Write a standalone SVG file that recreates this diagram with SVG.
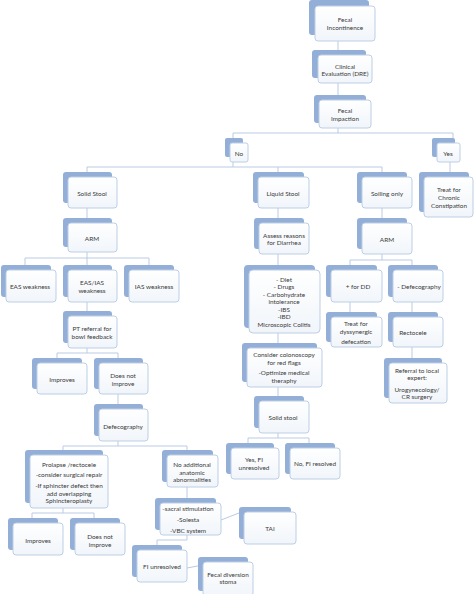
<svg xmlns="http://www.w3.org/2000/svg" width="474" height="594" viewBox="0 0 474 594">
<defs>
<linearGradient id="fg" x1="0" y1="0" x2="0" y2="1">
<stop offset="0" stop-color="#ffffff"/>
<stop offset="1" stop-color="#f1f5fa"/>
</linearGradient>
</defs>
<style>
.b{fill:#93aed7;stroke:none}
.f{fill:url(#fg);stroke:#bccfe6;stroke-width:1}
.t{font-family:Lato,"Liberation Sans",sans-serif;font-size:6.4px;fill:#3a3a3a;text-anchor:middle;dominant-baseline:central}
.c{stroke:#b9cbe3;stroke-width:1;fill:none}
</style>
<rect width="474" height="594" fill="#ffffff"/>
<g id="connectors" class="c">
<path d="M338 41V55M338 83V100M338 128V133M233 133H453M233 133V143M453 133V143"/>
<path d="M233 162V167M87 167H382M87 167V177M278 167V177M382 167V177M450 162V177"/>
<path d="M87 208V223M87 252V258M25 258H149M25 258V270M87 258V270M149 258V270"/>
<path d="M87 302V316M87 348V353M57 353H118M57 353V363M118 353V363M118 394V409"/>
<path d="M118 441V446M63 446H187M63 446V455M187 446V455"/>
<path d="M63 508V513M32 513H94M32 513V523M94 513V523"/>
<path d="M187 487V503M221 520L239 513M187 535V540H157V550M187 568L203 565"/>
<path d="M278 208V223M278 254V270M278 333V348M278 387V401M278 433V438M248 438H309M248 438V448M309 438V448"/>
<path d="M382 208V223M382 254V260M350 260H412M350 260V270M412 260V270M350 302V317M412 302V317M412 347V363"/>
</g>
<g id="n1"><rect class="b" x="309" y="0" width="60" height="35" rx="3"/><rect class="f" x="315" y="6" width="60" height="35" rx="3"/><text class="t" x="345" y="19">Fecal</text><text class="t" x="345" y="27.5">Incontinence</text></g>
<g id="n2"><rect class="b" x="312" y="50" width="54" height="28" rx="3"/><rect class="f" x="318" y="55" width="54" height="28" rx="3"/><text class="t" x="345" y="66">Clinical</text><text class="t" x="345" y="73.5">Evaluation (DRE)</text></g>
<g id="n3"><rect class="b" x="314" y="95" width="52" height="28" rx="3"/><rect class="f" x="319" y="100" width="52" height="28" rx="3"/><text class="t" x="345" y="110">Fecal</text><text class="t" x="345" y="118">Impaction</text></g>
<g id="n4"><rect class="b" x="225" y="138" width="18" height="19" rx="2"/><rect class="f" x="230" y="143" width="18" height="19" rx="2"/><text class="t" x="239" y="153">No</text></g>
<g id="n5"><rect class="b" x="432" y="138" width="23" height="19" rx="2"/><rect class="f" x="437" y="143" width="23" height="19" rx="2"/><text class="t" x="448" y="153">Yes</text></g>
<g id="n6"><rect class="b" x="63" y="172" width="49" height="31" rx="3"/><rect class="f" x="68" y="177" width="49" height="31" rx="3"/><text class="t" x="92" y="193">Solid Stool</text></g>
<g id="n7"><rect class="b" x="253" y="172" width="51" height="31" rx="3"/><rect class="f" x="258" y="177" width="51" height="31" rx="3"/><text class="t" x="283" y="193">Liquid Stool</text></g>
<g id="n8"><rect class="b" x="357" y="172" width="50" height="31" rx="3"/><rect class="f" x="362" y="177" width="50" height="31" rx="3"/><text class="t" x="387" y="193">Soiling only</text></g>
<g id="n9"><rect class="b" x="419" y="172" width="50" height="40" rx="3"/><rect class="f" x="424" y="177" width="49" height="40" rx="3"/><text class="t" x="449" y="189">Treat for</text><text class="t" x="449" y="197">Chronic</text><text class="t" x="449" y="205">Constipation</text></g>
<g id="n10"><rect class="b" x="63" y="218" width="49" height="29" rx="3"/><rect class="f" x="68" y="223" width="49" height="29" rx="3"/><text class="t" x="92" y="238">ARM</text></g>
<g id="n11"><rect class="b" x="1" y="265" width="50" height="32" rx="3"/><rect class="f" x="6" y="270" width="50" height="32" rx="3"/><text class="t" x="30" y="286">EAS weakness</text></g>
<g id="n12"><rect class="b" x="63" y="265" width="49" height="32" rx="3"/><rect class="f" x="68" y="270" width="49" height="32" rx="3"/><text class="t" x="92" y="282">EAS/IAS</text><text class="t" x="92" y="290">weakness</text></g>
<g id="n13"><rect class="b" x="124" y="265" width="50" height="32" rx="3"/><rect class="f" x="129" y="270" width="50" height="32" rx="3"/><text class="t" x="154" y="286">IAS weakness</text></g>
<g id="n14"><rect class="b" x="63" y="311" width="49" height="32" rx="3"/><rect class="f" x="68" y="316" width="49" height="32" rx="3"/><text class="t" x="92" y="328">PT referral for</text><text class="t" x="92" y="336">bowl feedback</text></g>
<g id="n15"><rect class="b" x="32" y="358" width="50" height="31" rx="3"/><rect class="f" x="37" y="363" width="50" height="31" rx="3"/><text class="t" x="62" y="379">Improves</text></g>
<g id="n16"><rect class="b" x="94" y="358" width="49" height="31" rx="3"/><rect class="f" x="99" y="363" width="49" height="31" rx="3"/><text class="t" x="123" y="375">Does not</text><text class="t" x="123" y="383">improve</text></g>
<g id="n17"><rect class="b" x="94" y="404" width="49" height="32" rx="3"/><rect class="f" x="99" y="409" width="49" height="32" rx="3"/><text class="t" x="123" y="426">Defecography</text></g>
<g id="n18"><rect class="b" x="25" y="450" width="78" height="53" rx="3"/><rect class="f" x="30" y="455" width="78" height="53" rx="3"/><text class="t" x="69" y="464">Prolapse /rectocele</text><text class="t" x="69" y="474">-consider surgical repair</text><text class="t" x="69" y="485">-If sphincter defect then</text><text class="t" x="69" y="493">add overlapping</text><text class="t" x="69" y="500.5">Sphincteroplasty</text></g>
<g id="n19"><rect class="b" x="8" y="518" width="50" height="32" rx="3"/><rect class="f" x="13" y="523" width="50" height="32" rx="3"/><text class="t" x="38" y="540">Improves</text></g>
<g id="n20"><rect class="b" x="70" y="518" width="50" height="32" rx="3"/><rect class="f" x="75" y="523" width="50" height="32" rx="3"/><text class="t" x="100" y="536">Does not</text><text class="t" x="100" y="544">improve</text></g>
<g id="n21"><rect class="b" x="162" y="450" width="51" height="32" rx="3"/><rect class="f" x="167" y="455" width="51" height="32" rx="3"/><text class="t" x="192" y="464">No additional</text><text class="t" x="192" y="472">anatomic</text><text class="t" x="192" y="479.5">abnormalities</text></g>
<g id="n22"><rect class="b" x="155" y="498" width="61" height="32" rx="3"/><rect class="f" x="160" y="503" width="61" height="32" rx="3"/><text class="t" x="188" y="508.5">-sacral stimulation</text><text class="t" x="188" y="519">-Solesta</text><text class="t" x="188" y="530">-VBC system</text></g>
<g id="n23"><rect class="b" x="239" y="507" width="52" height="32" rx="3"/><rect class="f" x="244" y="512" width="52" height="32" rx="3"/><text class="t" x="270" y="528">TAI</text></g>
<g id="n24"><rect class="b" x="132" y="545" width="50" height="32" rx="3"/><rect class="f" x="137" y="550" width="50" height="32" rx="3"/><text class="t" x="162" y="566">FI unresolved</text></g>
<g id="n25"><rect class="b" x="198" y="557" width="50" height="34" rx="3"/><rect class="f" x="203" y="562" width="50" height="34" rx="3"/><text class="t" x="228" y="574">Fecal diversion</text><text class="t" x="228" y="581.5">stoma</text></g>
<g id="n26"><rect class="b" x="254" y="218" width="50" height="31" rx="3"/><rect class="f" x="259" y="223" width="50" height="31" rx="3"/><text class="t" x="284" y="235">Assess reasons</text><text class="t" x="284" y="242.5">for Diarrhea</text></g>
<g id="n27"><rect class="b" x="244" y="265" width="71" height="63" rx="4"/><rect class="f" x="249" y="270" width="71" height="63" rx="4"/><text class="t" x="284" y="279">- Diet</text><text class="t" x="284" y="286.5">- Drugs</text><text class="t" x="284" y="294">- Carbohydrate</text><text class="t" x="284" y="301.5">intolerance</text><text class="t" x="284" y="309">-IBS</text><text class="t" x="284" y="316.5">-IBD</text><text class="t" x="284" y="324">Microscopic Colitis</text></g>
<g id="n28"><rect class="b" x="242" y="343" width="75" height="39" rx="3"/><rect class="f" x="247" y="348" width="75" height="39" rx="3"/><text class="t" x="284" y="354.5">Consider colonoscopy</text><text class="t" x="284" y="362">for red flags</text><text class="t" x="284" y="372">-Optimize medical</text><text class="t" x="284" y="380">theraphy</text></g>
<g id="n29"><rect class="b" x="254" y="396" width="50" height="32" rx="3"/><rect class="f" x="259" y="401" width="50" height="32" rx="3"/><text class="t" x="283" y="417">Solid stool</text></g>
<g id="n30"><rect class="b" x="226" y="443" width="48" height="31" rx="3"/><rect class="f" x="231" y="448" width="48" height="31" rx="3"/><text class="t" x="254" y="459">Yes, FI</text><text class="t" x="254" y="467">unresolved</text></g>
<g id="n31"><rect class="b" x="285" y="443" width="50" height="31" rx="3"/><rect class="f" x="290" y="448" width="50" height="31" rx="3"/><text class="t" x="315" y="463">No, FI resolved</text></g>
<g id="n32"><rect class="b" x="357" y="218" width="50" height="31" rx="3"/><rect class="f" x="362" y="223" width="50" height="31" rx="3"/><text class="t" x="387" y="239">ARM</text></g>
<g id="n33"><rect class="b" x="326" y="265" width="51" height="32" rx="3"/><rect class="f" x="331" y="270" width="51" height="32" rx="3"/><text class="t" x="358" y="286">+ for DD</text></g>
<g id="n34"><rect class="b" x="388" y="265" width="50" height="32" rx="3"/><rect class="f" x="393" y="270" width="50" height="32" rx="3"/><text class="t" x="419" y="286">- Defecography</text></g>
<g id="n35"><rect class="b" x="326" y="312" width="51" height="30" rx="3"/><rect class="f" x="331" y="317" width="51" height="30" rx="3"/><text class="t" x="356" y="323.5">Treat for</text><text class="t" x="356" y="331">dyssynergic</text><text class="t" x="356" y="341">defecation</text></g>
<g id="n36"><rect class="b" x="388" y="312" width="50" height="30" rx="3"/><rect class="f" x="393" y="317" width="50" height="30" rx="3"/><text class="t" x="413" y="332">Rectocele</text></g>
<g id="n37"><rect class="b" x="384" y="358" width="58" height="40" rx="3"/><rect class="f" x="389" y="363" width="58" height="40" rx="3"/><text class="t" x="417" y="370">Referral to  local</text><text class="t" x="417" y="377.5">expert:</text><text class="t" x="417" y="389">Urogynecology/</text><text class="t" x="417" y="396.5">CR surgery</text></g>
</svg>
